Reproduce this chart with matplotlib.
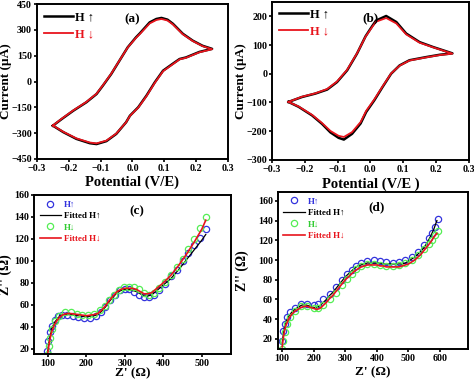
import matplotlib
matplotlib.use("Agg")
import matplotlib.pyplot as plt

plt.rcParams['font.family'] = ['Liberation Serif', 'DejaVu Serif']
plt.rcParams['font.weight'] = 'bold'

# (a) CV, loop: forward (upper) then reverse (lower) branch
a_v = [-0.25, -0.222, -0.186, -0.145, -0.113, -0.093, -0.067, -0.041, -0.015, 0.011,
       0.023, 0.054, 0.075, 0.091, 0.11, 0.127, 0.158, 0.189, 0.22, 0.25,
       0.21, 0.168, 0.148, 0.127, 0.096, 0.07, 0.044, 0.018, -0.008, -0.02, -0.051,
       -0.082, -0.113, -0.134, -0.176, -0.217, -0.25]
a_up = [-257, -218, -170, -121, -73, -24, 43, 121, 199, 257,
        280, 344, 364, 370, 360, 336, 278, 238, 208, 190,
        172, 140, 131, 104, 63, -5, -82, -150, -199, -237, -305,
        -347, -364, -359, -334, -295, -257]
a_dn = [-256, -216, -168, -119, -71, -22, 45, 122, 198, 254,
        276, 338, 358, 364, 355, 332, 275, 236, 206, 188,
        170, 138, 129, 101, 60, -8, -85, -152, -200, -237, -303,
        -344, -360, -355, -331, -293, -256]

# (b) CV
b_v = [-0.25, -0.209, -0.168, -0.132, -0.102, -0.071, -0.041, -0.015, 0.005, 0.017,
       0.048, 0.079, 0.109, 0.15, 0.191, 0.25,
       0.211, 0.17, 0.119, 0.089, 0.063, 0.037, 0.012, -0.013, -0.03, -0.056,
       -0.081, -0.097, -0.122, -0.148, -0.178, -0.219, -0.25]
b_up = [-98, -81, -69, -55, -29, 12, 70, 130, 165, 185,
        201, 180, 140, 110, 93, 71,
        66, 58, 47, 29, 0, -46, -92, -133, -173, -209,
        -229, -223, -204, -174, -145, -115, -98]
b_dn = [-98, -80, -68, -53, -27, 14, 71, 129, 162, 181,
        194, 175, 137, 108, 92, 70,
        65, 57, 46, 28, 1, -44, -89, -129, -168, -203,
        -220, -216, -199, -171, -143, -114, -98]

# (c) EIS
c_x_up = [98, 102, 106, 111, 118, 127, 138, 150, 165, 180, 195, 210, 225, 238, 250,
          262, 275, 288, 300, 312, 325, 338, 350, 362, 375, 390, 405, 420, 435, 450,
          465, 480, 495, 510]
c_y_up = [18, 27, 35, 41, 46, 50, 51, 51, 50, 49, 48, 48, 50, 53, 58,
          64, 69, 73, 74, 74, 72, 69, 67, 67, 69, 73, 79, 86, 92, 100,
          107, 114, 121, 129]
c_fx_up = [100, 105, 110, 118, 125, 132, 140, 150, 160, 180, 200, 220, 230, 240, 250,
           260, 270, 280, 290, 300, 310, 320, 330, 340, 350, 360, 370, 380, 390, 400,
           420, 440, 460, 480, 500, 510]
c_fy_up = [18, 30, 38, 44, 47, 50, 51, 51, 51, 50, 49, 50, 51, 54, 58,
           63, 67, 71, 73, 74, 74, 73, 72, 70, 68, 68, 69, 72, 75, 78,
           84, 92, 101, 110, 119, 124]
c_x_dn = [100, 103, 107, 112, 120, 130, 145, 160, 175, 190, 205, 220, 235, 248, 260,
          272, 285, 298, 310, 323, 336, 349, 362, 375, 390, 405, 420, 435, 450, 465,
          480, 495, 510]
c_y_dn = [15, 22, 30, 38, 45, 50, 53, 53, 52, 51, 51, 52, 55, 59, 64,
          69, 73, 76, 76, 76, 74, 71, 69, 71, 75, 81, 87, 94, 102, 111,
          120, 130, 140]
c_fx_dn = [100, 105, 110, 118, 125, 132, 140, 150, 160, 180, 200, 220, 230, 240, 250,
           260, 270, 280, 290, 300, 310, 320, 330, 340, 350, 360, 370, 380, 390, 400,
           420, 440, 460, 480, 500, 510]
c_fy_dn = [15, 27, 35, 42, 46, 49, 51, 52, 52, 51, 50, 51, 52, 55, 59,
           64, 68, 72, 74, 75, 75, 75, 74, 72, 70, 70, 71, 74, 77, 80,
           87, 96, 106, 117, 129, 137]

# (d) EIS
d_x_up = [100, 103, 108, 115, 125, 140, 160, 180, 200, 215, 230, 250, 270, 290, 305,
          320, 335, 350, 370, 390, 410, 430, 450, 470, 490, 510, 530, 550, 565, 575,
          585, 595]
d_y_up = [18, 28, 35, 42, 47, 51, 55, 55, 54, 55, 60, 66, 73, 80, 86,
          90, 94, 97, 99, 100, 99, 98, 97, 98, 100, 103, 108, 115, 122, 127,
          133, 142]
d_fx_up = [100, 105, 110, 120, 130, 140, 150, 160, 170, 180, 190, 200, 210, 220, 230,
           240, 250, 260, 270, 280, 290, 300, 310, 320, 330, 340, 350, 360, 370, 380,
           390, 400, 410, 420, 430, 440, 450, 460, 470, 480, 490, 500, 510, 520, 530,
           540, 550, 560, 570, 580, 590]
d_fy_up = [16, 28, 36, 43, 47, 50, 52, 54, 55, 54, 53, 52, 52, 54, 57,
           60, 64, 67, 71, 75, 79, 83, 86, 89, 92, 94, 95, 96, 97, 97,
           97, 97, 97, 96, 96, 96, 96, 96, 96, 96, 97, 99, 101, 103, 106,
           109, 113, 118, 124, 131, 140]
d_x_dn = [100, 103, 108, 115, 125, 140, 160, 180, 200, 215, 230, 250, 270, 290, 305,
          320, 335, 350, 370, 390, 410, 430, 450, 470, 490, 510, 530, 550, 565, 575,
          585, 595]
d_y_dn = [10, 18, 27, 35, 42, 48, 53, 53, 51, 51, 54, 60, 67, 75, 81,
          86, 91, 94, 96, 96, 95, 94, 94, 95, 97, 100, 105, 111, 116, 120,
          125, 129]
d_fx_dn = [100, 105, 110, 120, 130, 140, 150, 160, 170, 180, 190, 200, 210, 220, 230,
           240, 250, 260, 270, 280, 290, 300, 310, 320, 330, 340, 350, 360, 370, 380,
           390, 400, 410, 420, 430, 440, 450, 460, 470, 480, 490, 500, 510, 520, 530,
           540, 550, 560, 570, 580, 590]
d_fy_dn = [12, 24, 32, 40, 45, 48, 50, 52, 53, 53, 52, 51, 50, 51, 54,
           57, 61, 64, 68, 72, 76, 80, 83, 86, 89, 91, 93, 94, 95, 95,
           95, 95, 94, 94, 93, 93, 93, 93, 93, 94, 95, 96, 98, 100, 103,
           106, 110, 114, 118, 123, 127]

fig = plt.figure(figsize=(4.74, 3.8), dpi=100)
ax_a = fig.add_axes([0.078, 0.582, 0.403, 0.407])
ax_b = fig.add_axes([0.574, 0.579, 0.415, 0.416])
ax_c = fig.add_axes([0.072, 0.068, 0.415, 0.419])
ax_d = fig.add_axes([0.586, 0.082, 0.401, 0.413])

for ax in (ax_a, ax_b, ax_c, ax_d):
    for s in ax.spines.values():
        s.set_linewidth(1.4)
    ax.tick_params(labelsize=7.2, width=1.2, length=2.5, pad=1)

# CV panels
for ax, v, up, dn, lab in ((ax_a, a_v, a_up, a_dn, '(a)'), (ax_b, b_v, b_up, b_dn, '(b)')):
    ax.plot(v, up, color='black', lw=1.8, label='H \u2191')
    ax.plot(v, dn, color='#e8141c', lw=1.3, label='H \u2193')
    ax.set_xlim(-0.3, 0.3)
    ax.set_xticks([-0.3, -0.2, -0.1, 0.0, 0.1, 0.2, 0.3])
    ax.text(0.5, 0.88, lab, transform=ax.transAxes, fontsize=9.5, fontweight='bold', ha='center')
    leg = ax.legend(loc='upper left', frameon=False, handlelength=2.3,
                    handletextpad=0.2, borderaxespad=0.15, labelspacing=0.4,
                    prop={'weight': 'bold', 'size': 9})
    for t, c in zip(leg.get_texts(), ['black', '#e8141c']):
        t.set_color(c)
    for lb in ax.get_xticklabels() + ax.get_yticklabels():
        lb.set_fontweight('bold')

ax_a.set_ylim(-450, 450)
ax_a.set_yticks([-450, -300, -150, 0, 150, 300, 450])
ax_a.set_ylabel('Current (\u00b5A)', fontsize=9.5, fontweight='bold')
ax_a.set_xlabel('Potential (V/E)', fontsize=10.5, fontweight='bold')
ax_a.yaxis.set_label_coords(-0.13, 0.5)
ax_a.xaxis.set_label_coords(0.5, -0.11)
ax_b.set_ylim(-300, 250)
ax_b.set_yticks([-300, -200, -100, 0, 100, 200])
ax_b.set_ylabel('Current (\u00b5A)', fontsize=9.5, fontweight='bold')
ax_b.set_xlabel('Potential (V/E )', fontsize=10.5, fontweight='bold')
ax_b.yaxis.set_label_coords(-0.128, 0.5)
ax_b.xaxis.set_label_coords(0.5, -0.11)

# EIS panels
for ax, xu, yu, fxu, fyu, xd, yd, fxd, fyd, lab in (
        (ax_c, c_x_up, c_y_up, c_fx_up, c_fy_up, c_x_dn, c_y_dn, c_fx_dn, c_fy_dn, '(c)'),
        (ax_d, d_x_up, d_y_up, d_fx_up, d_fy_up, d_x_dn, d_y_dn, d_fx_dn, d_fy_dn, '(d)')):
    ax.plot(xu, yu, 'o', ms=4.5, mfc='none', mec='#3333dd', mew=0.9, label='H\u2191')
    ax.plot(fxu, fyu, color='black', lw=0.9, label='Fitted H\u2191')
    ax.plot(xd, yd, 'o', ms=4.5, mfc='none', mec='#55ee55', mew=0.9, label='H\u2193')
    ax.plot(fxd, fyd, color='#e8141c', lw=1.2, label='Fitted H\u2193')
    ax.text(0.52, 0.88, lab, transform=ax.transAxes, fontsize=9.5, fontweight='bold', ha='center')
    leg = ax.legend(loc='upper left', frameon=False, handlelength=2.4, handletextpad=0.3,
                    borderaxespad=0.2, labelspacing=0.35, prop={'weight': 'bold', 'size': 6.5})
    for t, c in zip(leg.get_texts(), ['#3333dd', 'black', '#33cc33', '#e8141c']):
        t.set_color(c)
    ax.set_xlabel("Z' (\u03a9)", fontsize=9.5, fontweight='bold')
    ax.set_ylabel("Z'' (\u03a9)", fontsize=10, fontweight='bold')
    for lb in ax.get_xticklabels() + ax.get_yticklabels():
        lb.set_fontweight('bold')

ax_c.set_xlim(65, 575)
ax_c.set_xticks([100, 200, 300, 400, 500])
ax_c.set_ylim(15, 160)
ax_c.set_yticks([20, 40, 60, 80, 100, 120, 140, 160])
ax_c.yaxis.set_label_coords(-0.11, 0.5)
ax_c.xaxis.set_label_coords(0.5, -0.08)
ax_d.set_xlim(86, 688)
ax_d.set_xticks([100, 200, 300, 400, 500, 600])
ax_d.set_ylim(10, 169)
ax_d.set_yticks([20, 40, 60, 80, 100, 120, 140, 160])
ax_d.yaxis.set_label_coords(-0.15, 0.5)
ax_d.xaxis.set_label_coords(0.5, -0.11)

fig.savefig('out.png', dpi=100)
